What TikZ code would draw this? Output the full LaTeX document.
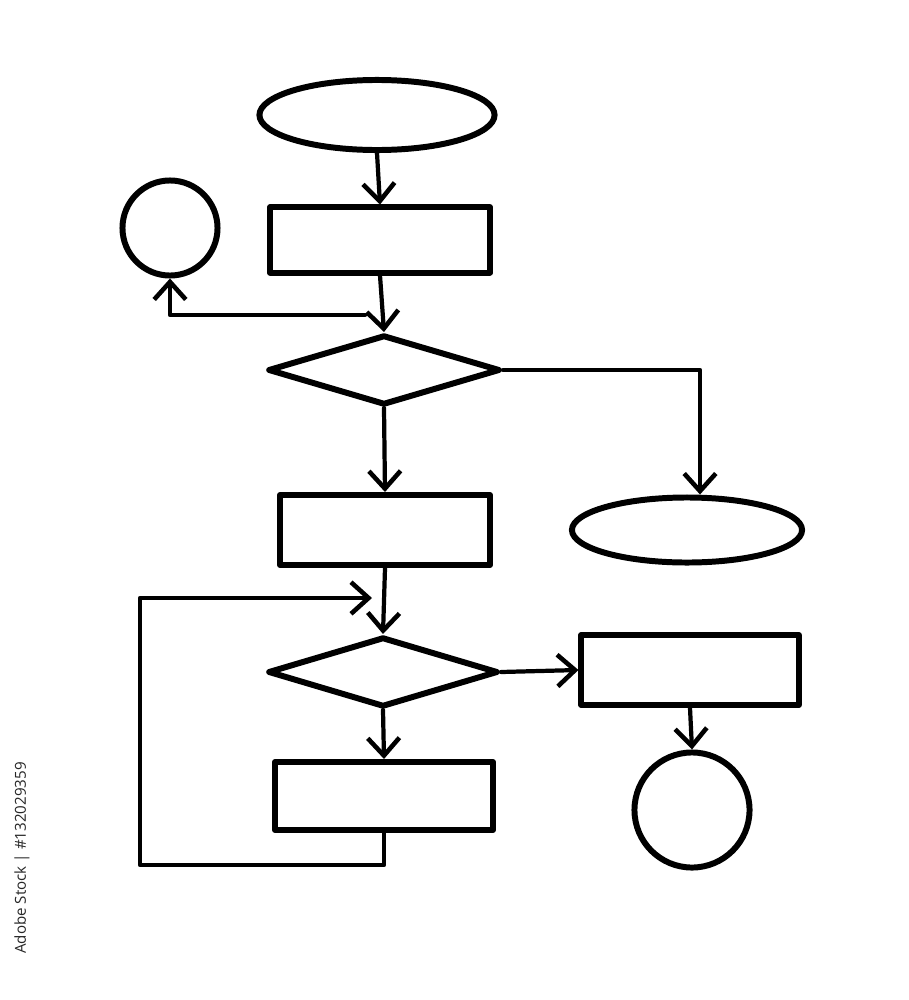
\documentclass[tikz,border=0pt]{standalone}
\usepackage{fontspec}
\newfontfamily\wmfont{Open Sans}
\usetikzlibrary{shapes.geometric,arrows.meta}
\begin{document}
\begin{tikzpicture}[x=0.01cm,y=-0.01cm,
  shp/.style={draw=black,line width=1.7pt,inner sep=0pt,line cap=round,line join=round},
  term/.style={shp,ellipse},
  proc/.style={shp,rectangle},
  dec/.style={shp,diamond,aspect=3.3},
  conn/.style={circle,shp},
  flow/.style={draw=black,line width=1.2pt,line cap=round,line join=round,
    -{Straight Barb[length=5pt,width=9pt,line width=1.3pt]}},
  plain/.style={draw=black,line width=1.2pt,line cap=round,line join=round}]
\useasboundingbox (0,0) rectangle (908,1000);
\fill[white] (0,0) rectangle (908,1000);
% nodes
\node[term,minimum width=2.35cm,minimum height=0.70cm] (start) at (377,115) {};
\node[proc,minimum width=2.20cm,minimum height=0.65cm] (r1) at (380,240) {};
\node[conn,minimum size=0.95cm] (c1) at (170,228) {};
\node[dec,minimum width=2.32cm,minimum height=0.70cm] (d1) at (384,370) {};
\node[proc,minimum width=2.10cm,minimum height=0.70cm] (r2) at (385,530) {};
\node[term,minimum width=2.30cm,minimum height=0.65cm] (e2) at (687,530) {};
\node[dec,minimum width=2.30cm,minimum height=0.70cm] (d2) at (383,672) {};
\node[proc,minimum width=2.17cm,minimum height=0.70cm] (r4) at (690,670) {};
\node[proc,minimum width=2.18cm,minimum height=0.68cm] (r3) at (384,796) {};
\node[conn,minimum size=1.15cm] (c2) at (692,810) {};
% free-end coordinates
\coordinate (j1) at (365,315);
\coordinate (j2) at (372,598);
\coordinate (lp) at (140,865);
% connectors
\draw[flow] (start.south) -- (r1.north);
\draw[flow] (r1.south) -- (d1.north);
\draw[flow] (j1) -| (c1.south);
\draw[flow] (d1.east) -| ([xshift=0.13cm]e2.north);
\draw[flow] (d1.south) -- (r2.north);
\draw[flow] (r2.south) -- (d2.north);
\draw[flow] (r3.south) |- (lp) |- (j2);
\draw[flow] (d2.east) -- (r4.west);
\draw[flow] (d2.south) -- (r3.north);
\draw[flow] (r4.south) -- (c2.north);
% vertical stock label
\node[rotate=90,anchor=center,text=black!85,font=\wmfont\fontsize{4.3pt}{5pt}\selectfont,inner sep=0pt] (wm) at (22,858) {Adobe Stock | \#132029359};
\end{tikzpicture}
\end{document}
